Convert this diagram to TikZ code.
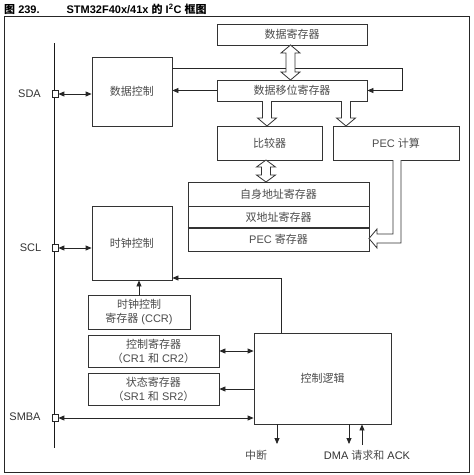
\documentclass[tikz,border=0pt]{standalone}
\usepackage{fontspec}
\setmainfont{Liberation Sans}
\newfontfamily\cjk{Noto Sans CJK SC}
\usetikzlibrary{arrows.meta,calc}
\begin{document}
\begin{tikzpicture}[x=1pt,y=-1pt,
  box/.style={draw=black!80, line width=0.8pt, inner sep=0pt, fill=white,
    font=\fontsize{11}{14}\selectfont, text=black!70, align=center},
  lbl/.style={inner sep=0pt, font=\fontsize{11}{13}\selectfont, text=black!80},
  pin/.style={draw=black!85, line width=0.7pt, fill=white, inner sep=0pt, minimum width=6pt, minimum height=7pt},
  arr/.style={line width=0.8pt, draw=black!85, -{Triangle[length=6pt,width=5pt]}},
  darr/.style={line width=0.8pt, draw=black!85, {Triangle[length=6pt,width=5pt]}-{Triangle[length=6pt,width=5pt]}},
  hol/.style={draw=black!80, line width=0.8pt, fill=white, line join=miter}]
\useasboundingbox (0,0) rectangle (474,475);
% title
\node[anchor=west, inner sep=0pt, font=\fontsize{11}{13}\selectfont\bfseries] (title) at (4,9)
  {{\cjk\bfseries 图} 239.\hspace{27pt}STM32F40x/41x {\cjk\bfseries 的} I\textsuperscript{2}C {\cjk\bfseries 框图}};
% frame
\draw[line width=1pt, draw=black!85] (4,16) rectangle (469,472);
% bus
\draw[line width=0.9pt, draw=black!90] (54,43) -- (54,448);
% boxes
\node[box, minimum width=150pt, minimum height=21pt] (dr) at (292,34.5) {\cjk 数据寄存器};
\node[box, minimum width=150pt, minimum height=21pt] (sr) at (292,90.5) {\cjk 数据移位寄存器};
\node[box, minimum width=80pt, minimum height=69pt] (dc) at (132,91.5) {\cjk 数据控制};
\node[box, minimum width=105pt, minimum height=34pt] (cmp) at (269.5,143) {\cjk 比较器};
\node[box, minimum width=126pt, minimum height=34pt] (pec) at (396,143) {PEC {\cjk 计算}};
\node[box, minimum width=181pt, minimum height=24pt] (oa) at (278.5,194) {\cjk 自身地址寄存器};
\node[box, minimum width=181pt, minimum height=22pt] (da) at (278.5,217) {\cjk 双地址寄存器};
\node[box, minimum width=181pt, minimum height=23pt] (pr) at (278.5,239.5) {PEC {\cjk 寄存器}};
\draw[line width=1.5pt, draw=black!80] (pr.north west) -- (pr.north east);
\node[box, minimum width=80pt, minimum height=74pt] (cc) at (132,243) {\cjk 时钟控制};
\node[box, minimum width=102pt, minimum height=34pt] (ccr) at (139,312) {{\cjk 时钟控制}\\{\cjk 寄存器} (CCR)};
\node[box, minimum width=131pt, minimum height=32pt] (cr) at (153.5,351) {{\cjk 控制寄存器}\\{\cjk （}CR1 {\cjk 和} CR2{\cjk ）}};
\node[box, minimum width=131pt, minimum height=32pt] (st) at (153.5,389) {{\cjk 状态寄存器}\\{\cjk （}SR1 {\cjk 和} SR2{\cjk ）}};
\node[box, minimum width=137pt, minimum height=91pt] (cl) at (322.5,378.5) {\cjk 控制逻辑};
% pins and labels
\node[pin] (psda) at (55,94) {};
\node[pin] (pscl) at (55,248) {};
\node[pin] (psmba) at (55,418) {};
\node[lbl] (lsda) at (29.5,94) {SDA};
\node[lbl] (lscl) at (30.5,248) {SCL};
\node[lbl] (lsmba) at (25,417) {SMBA};
% connectors
\draw[darr] (psda.east) -- (psda.east -| dc.west);
\draw[darr] (pscl.east) -- (pscl.east -| cc.west);
\draw[darr] (psmba.east) -- (psmba.east -| cl.west);
\draw[arr] (sr.west) -- (sr.west -| dc.east);
\coordinate (fbA) at (402,68);
\draw[arr] (dc.east |- fbA) -- (fbA) |- (sr.east);
\draw[arr] (ccr.north) -- (ccr.north |- cc.south);
\coordinate (clA) at (281,278);
\draw[arr] (cl.north -| clA) -- (clA) -- (clA -| cc.east);
\draw[darr] (cr.east) -- (cr.east -| cl.west);
\draw[arr] (st.east -| cl.west) -- (st.east);
% bottom outputs
\node[lbl, text=black!70] (lint) at (256,455) {\cjk 中断};
\node[lbl] (ldma) at (367,455) {DMA {\cjk\color{black!70} 请求和} ACK};
\coordinate (intE) at (277,444);
\coordinate (dmaE) at (349,444);
\coordinate (ackS) at (362,445);
\draw[arr] (cl.south -| intE) -- (intE);
\draw[arr] (cl.south -| dmaE) -- (dmaE);
\draw[arr] (ackS) -- (ackS |- cl.south);
% hollow arrows
\draw[hol] (290.5,45) -- (300,53) -- (295,53) -- (295,72) -- (300,72) -- (290.5,80)
  -- (281,72) -- (286,72) -- (286,53) -- (281,53) -- cycle;
\draw[hol] (266,160) -- (275.5,167) -- (270.5,167) -- (270.5,175) -- (275.5,175) -- (266,182)
  -- (256.5,175) -- (261.5,175) -- (261.5,167) -- (256.5,167) -- cycle;
\draw[hol] (262.5,101) -- (262.5,118) -- (257.5,118) -- (267,126) -- (276.5,118) -- (271.5,118) -- (271.5,101);
\draw[hol] (341.5,101) -- (341.5,118) -- (336.5,118) -- (346,126) -- (355.5,118) -- (350.5,118) -- (350.5,101);
\draw[hol] (393,160) -- (393,234) -- (377,234) -- (377,229) -- (369,238.5) -- (377,248) -- (377,243) -- (401,243) -- (401,160);
\end{tikzpicture}
\end{document}
